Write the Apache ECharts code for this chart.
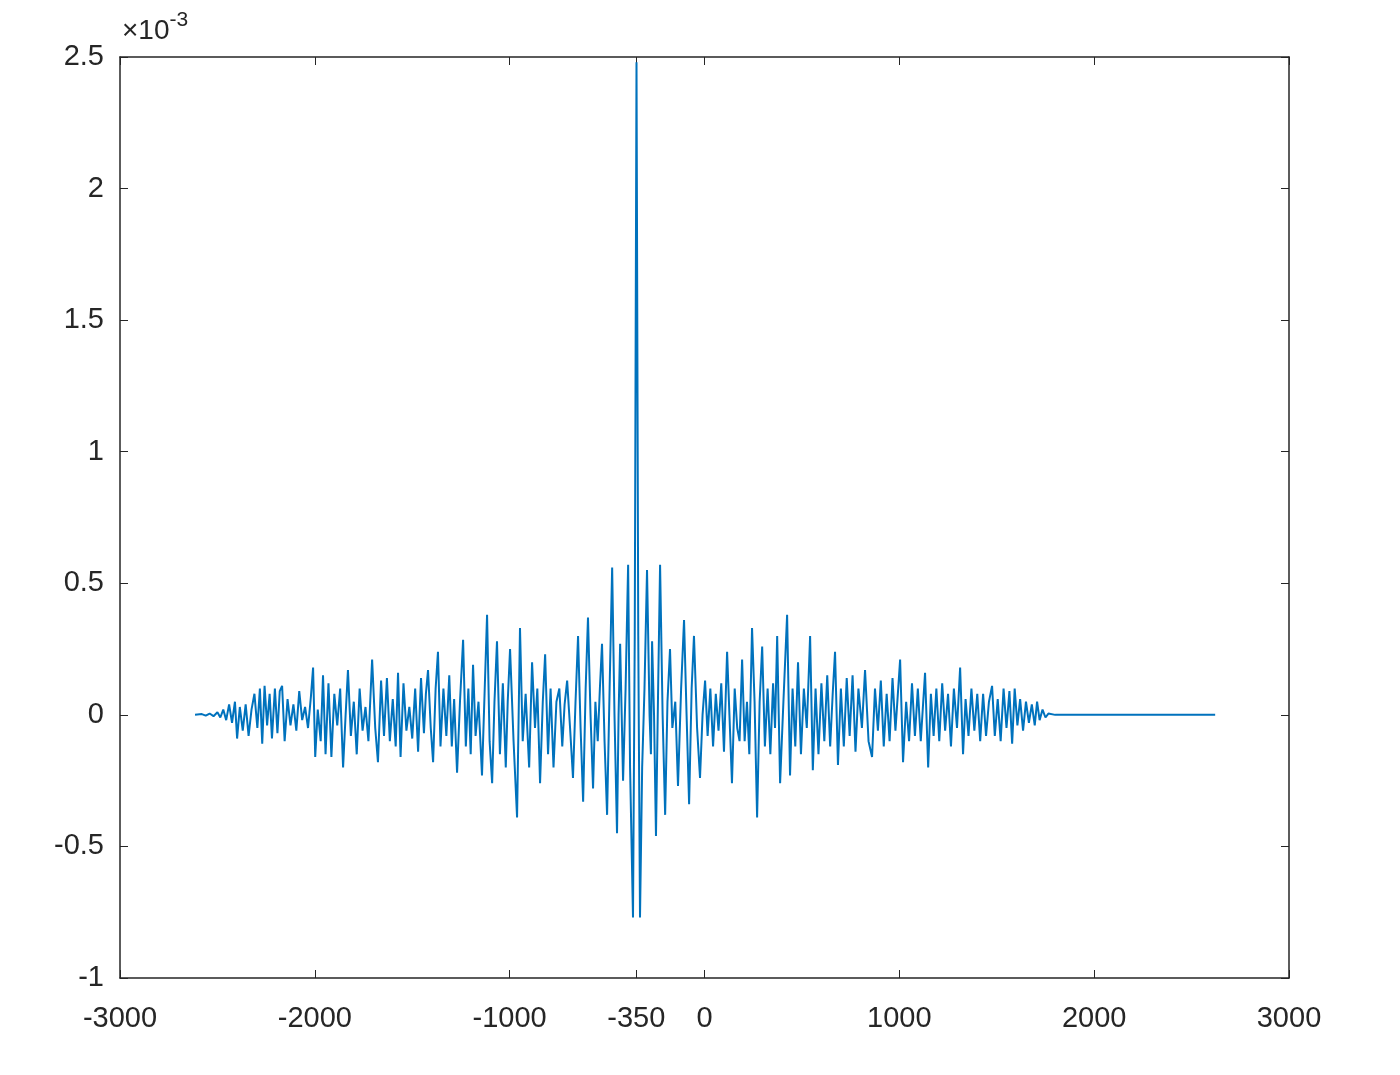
<!DOCTYPE html>
<html><head><meta charset="utf-8">
<script src="https://cdn.jsdelivr.net/npm/echarts@6/dist/echarts.min.js"></script>
<style>html,body{margin:0;padding:0;background:#fff}#c{width:1400px;height:1075px}</style>
</head><body><div id="c"></div>
<script>
const xTicks = [-3000, -2000, -1000, -350, 0, 1000, 2000, 3000];
const yTicks = [-1, -0.5, 0, 0.5, 1, 1.5, 2, 2.5];
const signal = [[-2615,0],[-2580,0.003],[-2560,-0.003],[-2540,0.005],[-2520,-0.005],[-2500,0.01],[-2485,-0.01],[-2470,0.02],[-2455,-0.02],[-2440,0.04],[-2425,-0.03],[-2410,0.05],[-2399,-0.09],[-2385,0.03],[-2370,-0.06],[-2355,0.04],[-2340,-0.08],[-2325,0.02],[-2310,0.08],[-2295,-0.05],[-2282,0.1],[-2270,-0.11],[-2258,0.11],[-2245,-0.04],[-2232,0.08],[-2220,-0.09],[-2205,0.1],[-2192,-0.07],[-2180,0.09],[-2168,0.11],[-2155,-0.1],[-2140,0.06],[-2125,-0.04],[-2110,0.04],[-2095,-0.06],[-2080,0.09],[-2065,-0.02],[-2050,0.03],[-2035,-0.05],[-2020,0.07],[-2009,0.18],[-1998,-0.16],[-1985,0.02],[-1970,-0.1],[-1958,0.15],[-1945,-0.15],[-1930,0.12],[-1915,-0.16],[-1900,0.08],[-1885,-0.04],[-1870,0.1],[-1855,-0.2],[-1842,0.0],[-1830,0.17],[-1815,-0.08],[-1800,0.05],[-1785,-0.15],[-1770,0.1],[-1755,-0.06],[-1740,0.03],[-1725,-0.1],[-1706,0.21],[-1690,-0.05],[-1676,-0.18],[-1660,0.13],[-1645,-0.08],[-1630,0.14],[-1615,-0.1],[-1600,0.06],[-1585,-0.12],[-1573,0.16],[-1560,-0.16],[-1545,0.12],[-1530,-0.06],[-1515,0.03],[-1500,-0.09],[-1485,0.1],[-1470,-0.14],[-1455,0.14],[-1440,-0.07],[-1430,0.08],[-1419,0.17],[-1405,-0.05],[-1393,-0.18],[-1380,0.1],[-1368,0.24],[-1355,-0.12],[-1340,0.1],[-1325,-0.08],[-1310,0.15],[-1297,-0.12],[-1285,0.06],[-1270,-0.22],[-1255,0.05],[-1239,0.285],[-1225,-0.12],[-1212,0.1],[-1200,-0.15],[-1188,0.19],[-1175,-0.08],[-1160,0.05],[-1142,-0.23],[-1128,0.1],[-1116,0.38],[-1103,-0.1],[-1090,-0.26],[-1078,0.05],[-1065,0.28],[-1050,-0.15],[-1035,0.12],[-1020,-0.2],[-1010,0.05],[-998,0.25],[-980,-0.1],[-962,-0.39],[-947,0.33],[-933,-0.1],[-918,0.08],[-900,-0.2],[-885,0.2],[-870,-0.05],[-858,0.1],[-844,-0.26],[-830,0.05],[-818,0.23],[-803,-0.15],[-790,0.1],[-775,-0.2],[-760,0.05],[-745,0.1],[-730,-0.12],[-718,0.04],[-705,0.13],[-690,-0.05],[-675,-0.24],[-662,0.05],[-649,0.3],[-636,-0.05],[-623,-0.33],[-610,0.1],[-598,0.37],[-585,0.0],[-572,-0.28],[-560,0.05],[-548,-0.1],[-537,0.1],[-526,0.27],[-513,-0.1],[-500,-0.38],[-487,0.1],[-474,0.56],[-462,0.0],[-449,-0.45],[-441,0.0],[-433,0.27],[-425,0.0],[-418,-0.25],[-405,0.1],[-392,0.57],[-382,-0.2],[-367,-0.77],[-358,0.3],[-349,2.48],[-340,0.3],[-331,-0.77],[-320,-0.2],[-308,0.1],[-295,0.55],[-282,0.0],[-275,-0.15],[-269,0.28],[-259,0.0],[-249,-0.46],[-238,0.1],[-228,0.57],[-215,0.0],[-202,-0.38],[-190,0.05],[-177,0.25],[-165,-0.05],[-150,0.05],[-136,-0.27],[-120,0.1],[-105,0.36],[-92,0.0],[-79,-0.34],[-66,0.1],[-54,0.3],[-38,-0.05],[-23,-0.24],[-10,0.0],[3,0.13],[16,-0.08],[30,0.1],[44,-0.12],[58,0.08],[72,-0.06],[86,0.12],[100,-0.14],[116,0.24],[128,0.0],[141,-0.26],[155,0.1],[168,-0.05],[180,-0.1],[193,0.21],[206,-0.1],[218,0.05],[230,-0.15],[244,0.33],[257,0.05],[270,-0.39],[283,0.05],[296,0.26],[310,-0.12],[324,0.1],[338,-0.15],[352,0.12],[362,-0.05],[373,0.3],[388,-0.26],[405,0.05],[424,0.38],[439,-0.23],[452,0.1],[466,-0.12],[480,0.2],[495,-0.15],[510,0.1],[525,-0.05],[542,0.3],[556,-0.21],[570,0.1],[585,-0.15],[600,0.12],[615,-0.1],[630,0.15],[645,-0.12],[658,0.08],[670,0.24],[685,-0.19],[700,0.1],[715,-0.12],[730,0.14],[745,-0.08],[760,0.15],[775,-0.14],[790,0.1],[808,-0.05],[824,0.17],[842,-0.1],[860,-0.16],[875,0.1],[890,-0.06],[905,0.13],[920,-0.12],[935,0.08],[950,-0.1],[965,0.14],[980,-0.06],[1004,0.21],[1019,-0.18],[1035,0.05],[1050,-0.1],[1065,0.12],[1080,-0.08],[1095,0.1],[1110,-0.1],[1132,0.16],[1148,-0.2],[1162,0.08],[1176,-0.08],[1190,0.1],[1205,-0.1],[1220,0.12],[1235,-0.06],[1250,0.08],[1265,-0.12],[1280,0.1],[1296,-0.05],[1312,0.18],[1327,-0.15],[1340,0.06],[1355,-0.08],[1370,0.1],[1385,-0.06],[1400,0.08],[1415,-0.1],[1430,0.08],[1445,-0.08],[1460,0.05],[1476,0.11],[1490,-0.08],[1505,0.06],[1520,-0.1],[1535,0.1],[1550,-0.05],[1565,0.09],[1579,-0.11],[1592,0.1],[1606,-0.04],[1620,0.06],[1635,-0.06],[1650,0.05],[1665,-0.03],[1680,0.04],[1695,-0.04],[1707,0.05],[1720,-0.02],[1735,0.02],[1750,-0.01],[1765,0.005],[1800,0],[2621,0]];

const font = '"Liberation Sans", Arial, sans-serif';
const txt = '#262626';
const chart = echarts.init(document.getElementById('c'), null, {renderer:'canvas'});
const tickStyle = {show:true, inside:true, length:8, lineStyle:{color:txt, width:1}};
const line = {show:true, onZero:false, lineStyle:{color:txt, width:1.5}};
chart.setOption({
  animation:false,
  grid:{left:120, right:111, top:57, bottom:97, show:false},
  xAxis:[
    {type:'value', min:-3000, max:3000, position:'bottom', axisLine:line,
     axisTick:Object.assign({customValues:xTicks}, tickStyle),
     axisLabel:{customValues:xTicks, color:txt, fontSize:29, fontFamily:font, margin:26,
       formatter:v=>String(v)},
     splitLine:{show:false}},
    {type:'value', min:-3000, max:3000, position:'top', axisLine:line,
     axisTick:Object.assign({customValues:xTicks}, tickStyle),
     axisLabel:{show:false}, splitLine:{show:false}}
  ],
  yAxis:[
    {type:'value', min:-1, max:2.5, interval:0.5, position:'left', axisLine:line,
     axisTick:tickStyle,
     axisLabel:{color:txt, fontSize:29, fontFamily:font, margin:16, formatter:v=>String(v)},
     splitLine:{show:false}},
    {type:'value', min:-1, max:2.5, interval:0.5, position:'right', axisLine:line,
     axisTick:tickStyle, axisLabel:{show:false}, splitLine:{show:false}}
  ],
  series:[{type:'line', data:signal, showSymbol:false, symbol:'none',
    lineStyle:{color:'#0072BD', width:2}, xAxisIndex:0, yAxisIndex:0}],
  graphic:[{type:'text', left:122, top:10, style:{
    text:'{a|×10}{b|-3}', fill:txt,
    rich:{a:{fontSize:28, fontFamily:font, fill:txt, verticalAlign:'bottom'},
          b:{fontSize:21, fontFamily:font, fill:txt, verticalAlign:'top', padding:[0,0,14,0]}}}}]
});
</script></body></html>
